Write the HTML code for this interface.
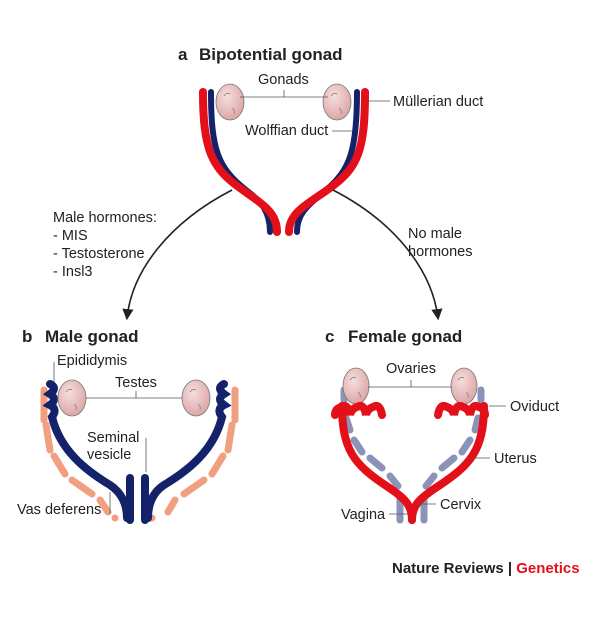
<!DOCTYPE html>
<html><head><meta charset="utf-8"><style>
html,body{margin:0;padding:0;background:#fff}
svg{display:block}
text{font-family:"Liberation Sans",sans-serif;fill:#222}
</style></head><body>
<svg width="600" height="629" viewBox="0 0 600 629" xmlns="http://www.w3.org/2000/svg">
<defs>
<radialGradient id="g" cx="40%" cy="35%" r="70%"><stop offset="0" stop-color="#f6dede"/><stop offset="1" stop-color="#dba3a3"/></radialGradient>
<marker id="ah" viewBox="0 0 10 10" refX="8" refY="5" markerWidth="7" markerHeight="7" orient="auto"><path d="M0,0 L10,5 L0,10 z" fill="#222"/></marker>
</defs>

<!-- Panel a -->
<text x="178" y="60" font-size="17" font-weight="bold" fill="#111">a</text>
<text x="199" y="60" font-size="17" font-weight="bold" fill="#111">Bipotential gonad</text>
<path d="M211,92 C211,150 218,168 246,190 C262,202 270,212 270,232" stroke="#14226a" stroke-width="6" fill="none" stroke-linecap="round"/>
<path d="M357,92 C357,150 350,170 326,190 C310,204 297,212 297,232" stroke="#14226a" stroke-width="6" fill="none" stroke-linecap="round"/>
<path d="M365,92 C365,150 358,168 330,188 C308,204 289,212 289,232" stroke="#e3101a" stroke-width="8" fill="none" stroke-linecap="round"/>
<path d="M203,92 C203,150 212,168 240,188 C262,204 277,212 277,232" stroke="#e3101a" stroke-width="8" fill="none" stroke-linecap="round"/>
<ellipse cx="230" cy="102" rx="14" ry="18" fill="url(#g)" stroke="#777" stroke-width="0.8"/>
<ellipse cx="337" cy="102" rx="14" ry="18" fill="url(#g)" stroke="#777" stroke-width="0.8"/>
<path d="M224,96 q3,-4 6,-2 M232,108 q3,2 2,6" stroke="#777" stroke-width="0.7" fill="none"/>
<path d="M331,96 q3,-4 6,-2 M339,108 q3,2 2,6" stroke="#777" stroke-width="0.7" fill="none"/>
<line x1="240" y1="97" x2="328" y2="97" stroke="#555" stroke-width="0.8"/>
<line x1="284" y1="90" x2="284" y2="97" stroke="#555" stroke-width="0.8"/>
<text x="258" y="84" font-size="14.5">Gonads</text>
<line x1="367" y1="101" x2="390" y2="101" stroke="#555" stroke-width="0.8"/>
<text x="393" y="106" font-size="14.5">Müllerian duct</text>
<text x="245" y="135" font-size="14.5">Wolffian duct</text>
<line x1="332" y1="131" x2="352" y2="131" stroke="#555" stroke-width="0.8"/>

<!-- arrows -->
<path d="M232,190 C170,222 132,270 127,318" stroke="#222" stroke-width="1.6" fill="none" marker-end="url(#ah)"/>
<path d="M333,190 C395,222 432,270 438,318" stroke="#222" stroke-width="1.6" fill="none" marker-end="url(#ah)"/>
<text font-size="14.5"><tspan x="53" y="222">Male hormones:</tspan><tspan x="53" y="240">- MIS</tspan><tspan x="53" y="258">- Testosterone</tspan><tspan x="53" y="276">- Insl3</tspan></text>
<text font-size="14.5"><tspan x="408" y="238">No male</tspan><tspan x="408" y="256">hormones</tspan></text>

<!-- Panel b -->
<text x="22" y="342" font-size="17" font-weight="bold" fill="#111">b</text>
<text x="45" y="342" font-size="17" font-weight="bold" fill="#111">Male gonad</text>
<g stroke="#f0a080" stroke-width="7" stroke-linecap="round" fill="none">
<path d="M44,390 L44,420 M46,425 L50,450 M54,456 L65,474 M72,480 L92,494 M100,500 L108,512"/>
<path d="M235,390 L235,420 M232,425 L228,450 M223,456 L212,474 M204,480 L184,494 M175,500 L168,512"/>
</g>
<circle cx="115" cy="518" r="3.5" fill="#f0a080"/><circle cx="152" cy="518" r="3.5" fill="#f0a080"/>
<g stroke="#14226a" stroke-width="8" stroke-linecap="round" fill="none">
<path d="M50,384 q8,4 0,10 q8,5 0,11 q8,4 2,12 C60,450 85,470 110,485 C122,493 127,505 127,518"/>
<path d="M130,478 L130,520 M145,478 L145,520"/>
<path d="M224,384 q-8,4 0,10 q-8,5 0,11 q-8,4 -2,12 C214,450 189,470 164,485 C152,493 148,505 148,518"/>
</g>
<ellipse cx="72" cy="398" rx="14" ry="18" fill="url(#g)" stroke="#777" stroke-width="0.8"/>
<ellipse cx="196" cy="398" rx="14" ry="18" fill="url(#g)" stroke="#777" stroke-width="0.8"/>
<path d="M66,392 q3,-4 6,-2 M74,404 q3,2 2,6" stroke="#777" stroke-width="0.7" fill="none"/>
<path d="M190,392 q3,-4 6,-2 M198,404 q3,2 2,6" stroke="#777" stroke-width="0.7" fill="none"/>
<text x="57" y="365" font-size="14.5">Epididymis</text>
<line x1="54" y1="362" x2="54" y2="382" stroke="#555" stroke-width="0.8"/>
<text x="115" y="387" font-size="14.5">Testes</text>
<line x1="86" y1="398" x2="182" y2="398" stroke="#555" stroke-width="0.8"/>
<line x1="136" y1="391" x2="136" y2="398" stroke="#555" stroke-width="0.8"/>
<text x="87" y="442" font-size="14.5">Seminal</text>
<text x="87" y="459" font-size="14.5">vesicle</text>
<line x1="146" y1="438" x2="146" y2="472" stroke="#555" stroke-width="0.8"/>
<text x="17" y="514" font-size="14.5">Vas deferens</text>
<line x1="110" y1="492" x2="110" y2="514" stroke="#555" stroke-width="0.8"/>

<!-- Panel c -->
<text x="325" y="342" font-size="17" font-weight="bold" fill="#111">c</text>
<text x="348" y="342" font-size="17" font-weight="bold" fill="#111">Female gonad</text>
<g stroke="#8c93b8" stroke-width="7" stroke-linecap="round" fill="none">
<path d="M344,390 L344,400 M346,418 L350,430 M354,440 L362,452 M370,458 L382,468 M390,476 L398,486"/>
<path d="M481,390 L481,400 M478,418 L475,430 M470,440 L462,452 M454,458 L442,468 M434,476 L426,486"/>
<path d="M400,496 L400,520 M424,496 L424,520"/>
</g>
<ellipse cx="356" cy="386" rx="13" ry="18" fill="url(#g)" stroke="#777" stroke-width="0.8"/>
<ellipse cx="464" cy="386" rx="13" ry="18" fill="url(#g)" stroke="#777" stroke-width="0.8"/>
<path d="M350,380 q3,-4 6,-2 M358,392 q3,2 2,6" stroke="#777" stroke-width="0.7" fill="none"/>
<path d="M458,380 q3,-4 6,-2 M466,392 q3,2 2,6" stroke="#777" stroke-width="0.7" fill="none"/>
<g stroke="#e3101a" stroke-width="8" stroke-linecap="round" fill="none">
<path d="M382,415 q-2,-12 -9,-8 q-6,2 -7,8 q-2,-12 -9,-8 q-6,2 -7,8 q-2,-12 -9,-8 q-6,2 -6,8"/>
<path d="M342,406 C342,450 355,465 385,485 C405,498 412,505 412,520"/>
<path d="M438,415 q2,-12 9,-8 q6,2 7,8 q2,-12 9,-8 q6,2 7,8 q2,-12 9,-8 q6,2 6,8"/>
<path d="M484,406 C484,450 470,465 440,485 C420,498 412,505 412,520"/>
</g>
<text x="386" y="373" font-size="14.5">Ovaries</text>
<line x1="368" y1="387" x2="452" y2="387" stroke="#555" stroke-width="0.8"/>
<line x1="411" y1="380" x2="411" y2="387" stroke="#555" stroke-width="0.8"/>
<line x1="489" y1="406" x2="506" y2="406" stroke="#555" stroke-width="0.8"/>
<text x="510" y="411" font-size="14.5">Oviduct</text>
<line x1="472" y1="458" x2="490" y2="458" stroke="#555" stroke-width="0.8"/>
<text x="494" y="463" font-size="14.5">Uterus</text>
<line x1="417" y1="504" x2="436" y2="504" stroke="#555" stroke-width="0.8"/>
<text x="440" y="509" font-size="14.5">Cervix</text>
<text x="341" y="519" font-size="14.5">Vagina</text>
<line x1="389" y1="514" x2="408" y2="514" stroke="#555" stroke-width="0.8"/>

<!-- footer -->
<text x="392" y="573" font-size="15" font-weight="bold" fill="#111">Nature Reviews | <tspan fill="#e3101a">Genetics</tspan></text>
</svg>
</body></html>
